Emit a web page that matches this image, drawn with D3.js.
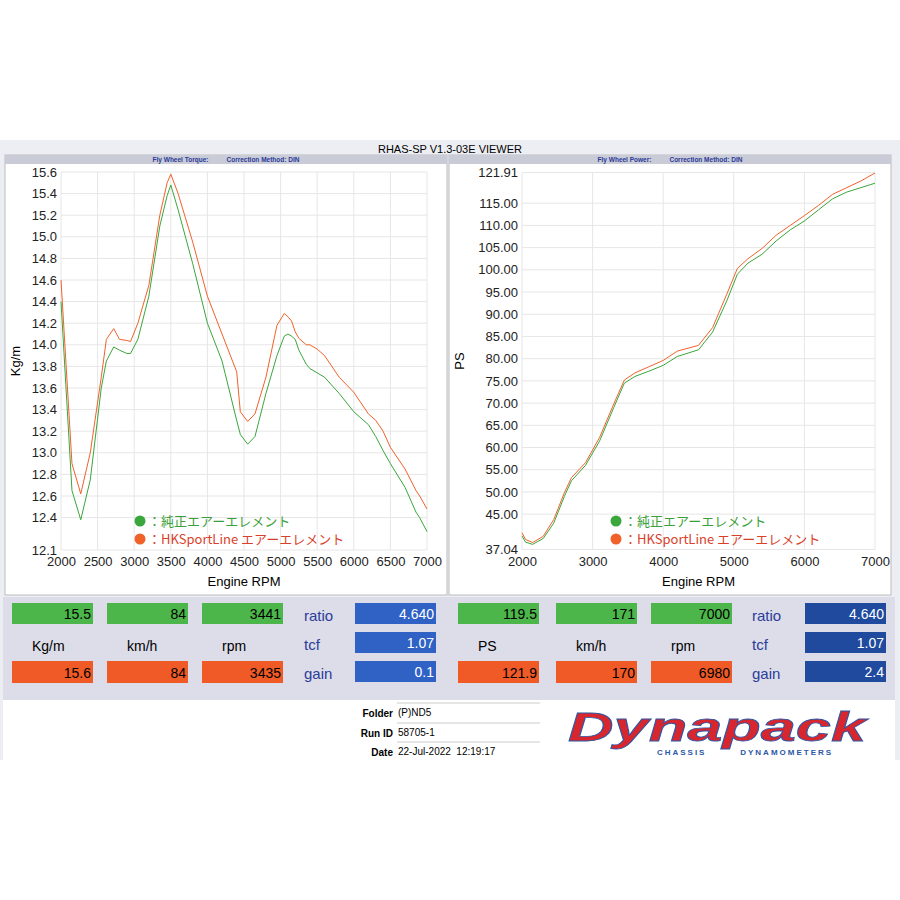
<!DOCTYPE html>
<html><head><meta charset="utf-8">
<script src="https://cdn.jsdelivr.net/npm/d3@7"></script>
<style>body{margin:0;background:#fff}svg{font-family:"Liberation Sans",Arial,sans-serif}text{white-space:pre}</style>
</head><body><svg id="c" width="900" height="900"></svg>
<script>
const torqueRpm=[2000,2150,2270,2400,2550,2620,2720,2800,2900,2950,3050,3200,3350,3450,3500,3600,3800,4000,4200,4400,4450,4550,4650,4800,4950,5050,5100,5150,5200,5250,5350,5400,5500,5600,5800,6000,6200,6300,6400,6500,6700,6850,6900,7000];
const torqueStock=[14.4,12.65,12.38,12.75,13.6,13.85,13.98,13.95,13.92,13.92,14.05,14.45,15.1,15.38,15.48,15.25,14.75,14.2,13.85,13.3,13.17,13.08,13.15,13.55,13.9,14.08,14.1,14.08,14.05,13.95,13.82,13.78,13.74,13.7,13.55,13.38,13.26,13.15,13.02,12.9,12.68,12.45,12.4,12.27];
const torqueHKS=[14.6,12.9,12.62,13.0,13.7,14.05,14.15,14.05,14.04,14.03,14.2,14.55,15.2,15.5,15.58,15.4,14.95,14.45,14.1,13.75,13.38,13.29,13.36,13.7,14.18,14.29,14.26,14.22,14.12,14.06,14.0,14.0,13.96,13.9,13.7,13.56,13.36,13.3,13.2,13.05,12.85,12.65,12.6,12.48];
const powerRpm=[2000,2050,2150,2300,2450,2600,2700,2900,3100,3300,3450,3600,3800,4000,4200,4500,4700,4900,5050,5200,5400,5600,5800,6000,6200,6400,6600,6800,7000];
const powerStock=[40.1,38.7,38.2,39.5,43,49,52.5,56,61.5,69,74.5,76,77.2,78.5,80.5,82,86,93,99,101.5,103.5,106.5,109,111,113.5,116,117.5,118.5,119.5];
const powerHKS=[40.8,39.3,38.6,40,43.8,49.8,53.2,56.6,62.3,69.8,75.2,76.8,78.2,79.6,81.7,83,87,94.5,100.3,102.5,104.8,107.8,110,112.2,114.5,117,118.5,120,121.8];
const torqueTicks=[12.1,12.4,12.6,12.8,13.0,13.2,13.4,13.6,13.8,14.0,14.2,14.4,14.6,14.8,15.0,15.2,15.4,15.6];
const torqueXTicks=[2000,2500,3000,3500,4000,4500,5000,5500,6000,6500,7000];
const powerTicks=[37.04,45,50,55,60,65,70,75,80,85,90,95,100,105,110,115,121.91];
const powerXTicks=[2000,3000,4000,5000,6000,7000];
const legendLabels=["：純正エアーエレメント","：HKSportLine エアーエレメント"];
const leftVals={green:["15.5","84","3441"],units:["Kg/m","km/h","rpm"],orange:["15.6","84","3435"],blue:["4.640","1.07","0.1"]};
const rightVals={green:["119.5","171","7000"],units:["PS","km/h","rpm"],orange:["121.9","170","6980"],blue:["4.640","1.07","2.4"]};
const G="#3aa63c",O="#f0622a";
const svg=d3.select("#c");
svg.append("rect").attr("x",0).attr("y",140).attr("width",900).attr("height",620).attr("fill","#eceef4");
svg.append("text").attr("x",450).attr("y",153).attr("text-anchor","middle").attr("font-size",11).text("RHAS-SP V1.3-03E VIEWER");

function panel(x0,title,yTicks,yDom,yR,xTicks,xR,yLab,fmt,rpm,s1,s2,legX){
  svg.append("rect").attr("x",x0).attr("y",155).attr("width",442).attr("height",440).attr("fill","#fff").attr("stroke","#bbb");
  svg.append("rect").attr("x",x0).attr("y",155).attr("width",442).attr("height",9).attr("fill","#c9ccd6");
  svg.append("text").attr("x",x0+221).attr("y",162).attr("text-anchor","middle").attr("font-size",6.5).attr("fill","#2a3a9a").attr("font-weight","bold").text(title);
  const x=d3.scaleLinear().domain([2000,7000]).range(xR);
  const y=d3.scaleLinear().domain(yDom).range(yR);
  const g=svg.append("g");
  g.selectAll(".gx").data(xTicks).join("line").attr("x1",d=>x(d)).attr("x2",d=>x(d)).attr("y1",yR[1]).attr("y2",yR[0]).attr("stroke","#e6e6e6");
  g.selectAll(".gy").data(yTicks).join("line").attr("x1",xR[0]).attr("x2",xR[1]).attr("y1",d=>y(d)).attr("y2",d=>y(d)).attr("stroke","#e6e6e6");
  const ya=g.append("g").attr("transform",`translate(${xR[0]},0)`).call(d3.axisLeft(y).tickValues(yTicks).tickFormat(fmt).tickSize(0).tickPadding(4));
  ya.select(".domain").remove();
  ya.selectAll("text").attr("font-size",13).attr("font-family","Liberation Sans,Arial").attr("fill","#222");
  const xa=g.append("g").attr("transform",`translate(0,${yR[0]+7})`).call(d3.axisBottom(x).tickValues(xTicks).tickFormat(d3.format("d")).tickSize(0).tickPadding(0));
  xa.select(".domain").remove();
  xa.selectAll("text").attr("font-size",13).attr("font-family","Liberation Sans,Arial").attr("fill","#222");
  svg.append("text").attr("x",(xR[0]+xR[1])/2).attr("y",yR[0]+36).attr("text-anchor","middle").attr("font-size",13).text("Engine RPM");
  svg.append("text").attr("transform",`translate(${x0+15},${(yR[0]+yR[1])/2}) rotate(-90)`).attr("text-anchor","middle").attr("font-size",13).text(yLab);
  const line=d3.line().x((d,i)=>x(rpm[i])).y(d=>y(d));
  g.append("path").datum(s1).attr("d",line).attr("fill","none").attr("stroke",G).attr("stroke-width",1);
  g.append("path").datum(s2).attr("d",line).attr("fill","none").attr("stroke",O).attr("stroke-width",1);
  [[G,"#3aa03a",0],[O,"#d9402a",1]].forEach(([c,tc,i])=>{
    svg.append("circle").attr("cx",legX).attr("cy",521+i*18).attr("r",5.5).attr("fill",c);
    svg.append("text").attr("x",legX+8).attr("y",526+i*18).attr("font-size",13).attr("fill",tc).attr("font-family","Noto Sans CJK JP").text(legendLabels[i]);
  });
}
panel(5,"Fly Wheel Torque:          Correction Method: DIN",torqueTicks,[12.1,15.6],[550,172],torqueXTicks,[61,427],"Kg/m",d3.format(".1f"),torqueRpm,torqueStock,torqueHKS,140);
panel(449,"Fly Wheel Power:          Correction Method: DIN",powerTicks,[37.04,121.91],[549.5,172.5],powerXTicks,[522,875],"PS",d3.format(".2f"),powerRpm,powerStock,powerHKS,616);

svg.append("rect").attr("x",3).attr("y",597).attr("width",892).attr("height",103).attr("fill","#dcdde8");
function table(xs,lblX,blueX,blueC,v){
  xs.forEach((bx,i)=>{
    svg.append("rect").attr("x",bx).attr("y",603).attr("width",81).attr("height",21).attr("fill","#4cb64a");
    svg.append("text").attr("x",bx+79).attr("y",619).attr("text-anchor","end").attr("font-size",14).text(v.green[i]);
    svg.append("text").attr("x",bx+20).attr("y",651).attr("font-size",14).text(v.units[i]);
    svg.append("rect").attr("x",bx).attr("y",661).attr("width",81).attr("height",22).attr("fill","#ef5a26");
    svg.append("text").attr("x",bx+79).attr("y",678).attr("text-anchor","end").attr("font-size",14).text(v.orange[i]);
  });
  ["ratio","tcf","gain"].forEach((l,i)=>{
    svg.append("text").attr("x",lblX).attr("y",621+i*29).attr("font-size",15).attr("fill","#2b3c9a").text(l);
    svg.append("rect").attr("x",blueX).attr("y",603+i*29).attr("width",81).attr("height",21).attr("fill",blueC);
    svg.append("text").attr("x",blueX+79).attr("y",619+i*29).attr("text-anchor","end").attr("font-size",14).attr("fill","#fff").text(v.blue[i]);
  });
}
table([12,107,202],304,355,"#2f62c4",leftVals);
table([458,556,651],752,805,"#1f4a9e",rightVals);

svg.append("rect").attr("x",3).attr("y",700).attr("width",892).attr("height",60).attr("fill","#fff");
[["Folder","(P)ND5",717],["Run ID","58705-1",737],["Date","22-Jul-2022  12:19:17",756]].forEach(([k,v,yy])=>{
  svg.append("text").attr("x",393).attr("y",yy).attr("text-anchor","end").attr("font-size",10).attr("font-weight","bold").text(k);
  svg.append("text").attr("x",398).attr("y",yy-1).attr("font-size",10).text(v);
  svg.append("line").attr("x1",397).attr("x2",540).attr("y1",yy-14).attr("y2",yy-14).attr("stroke","#ccc");
});
svg.append("text").attr("x",568).attr("y",741).attr("font-size",40).attr("font-style","italic").attr("font-weight","bold").attr("fill","#d8262e").attr("stroke","#2b57a6").attr("stroke-width",0.8).attr("font-family","Liberation Sans").attr("textLength",298).attr("lengthAdjust","spacingAndGlyphs").text("Dynapack");
svg.append("text").attr("x",745).attr("y",755).attr("text-anchor","middle").attr("font-size",8).attr("font-weight","bold").attr("fill","#2b57a6").attr("letter-spacing",2).text("CHASSIS        DYNAMOMETERS");
</script></body></html>
